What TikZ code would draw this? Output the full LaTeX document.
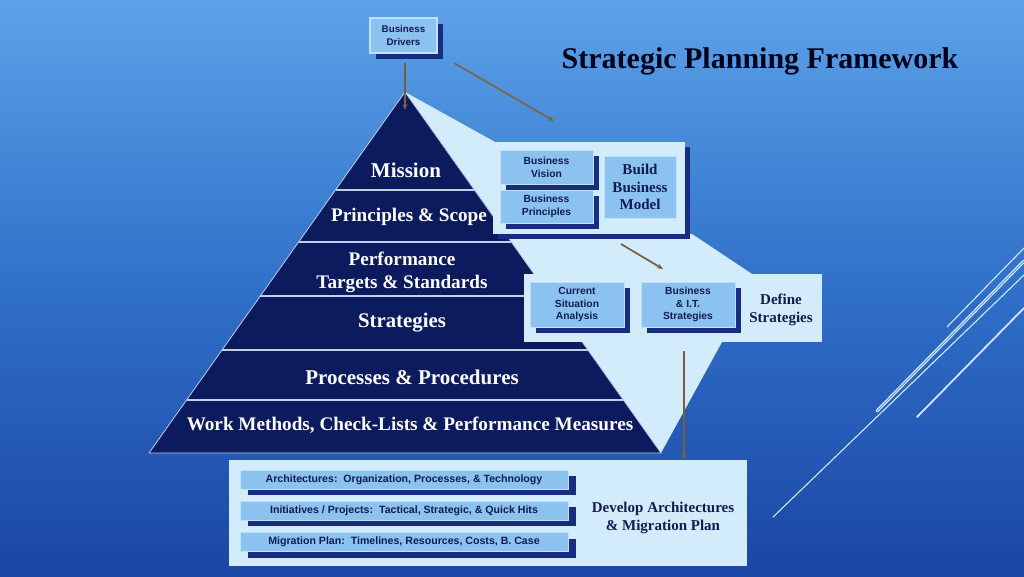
\documentclass[tikz,border=0pt]{standalone}
\usepackage{fontspec}
\setmainfont{Liberation Serif}
\newfontfamily\boxfont{Liberation Sans}
\usetikzlibrary{shadows,calc,arrows.meta}
\definecolor{navy}{RGB}{12,26,94}
\definecolor{shadownavy}{RGB}{24,44,128}
\definecolor{panel}{RGB}{210,236,251}
\definecolor{boxblue}{RGB}{140,194,240}
\definecolor{boxedge}{RGB}{190,226,252}
\definecolor{boxtext}{RGB}{16,28,80}
\definecolor{arrowbrown}{RGB}{122,94,60}
\definecolor{deco}{RGB}{208,232,252}
\definecolor{bgtop}{RGB}{92,162,232}
\definecolor{bgmid}{RGB}{48,112,200}
\definecolor{bgbot}{RGB}{26,70,164}
\definecolor{sepcol}{RGB}{190,206,236}
\begin{document}
\begin{tikzpicture}[x=1pt,y=-1pt,
  boxbase/.style={fill=boxblue, draw=boxedge, line width=0.8pt, inner sep=0pt, align=center,
    font=\boxfont\bfseries\fontsize{10.3}{12.8}\selectfont, text=boxtext},
  innerbox/.style={boxbase,
    drop shadow={shadow xshift=6pt,shadow yshift=-6pt,fill=shadownavy,opacity=1}},
  wideboxes/.style={boxbase, minimum width=328pt, minimum height=19pt,
    font=\boxfont\bfseries\fontsize{10.6}{12}\selectfont,
    drop shadow={shadow xshift=8pt,shadow yshift=-6pt,fill=shadownavy,opacity=1}},
  panelbox/.style={fill=panel, draw=none, inner sep=0pt},
  pyrtext/.style={text=white, align=center},
  navytext/.style={text=boxtext, align=center, font=\bfseries\fontsize{15}{17.5}\selectfont},
  brownarrow/.style={draw=arrowbrown, line width=1.7pt, -{Stealth[length=6pt,width=5pt]}},
  sepline/.style={draw=sepcol, line width=1.3pt},
  decoline/.style={draw=deco, line cap=round},
]
% background
\shade[top color=bgtop, bottom color=bgbot, middle color=bgmid] (0,0) rectangle (1024,576);
\useasboundingbox (0,0) rectangle (1024,576);

% pyramid corners
\coordinate (apex) at (405,92);
\coordinate (bl) at (149,453);
\coordinate (br) at (661,453);

% light projection panels (behind the pyramid)
\fill[panel] (apex) -- (495,142) -- (495,242) -- (512,242) -- cycle;
\fill[panel] (505,234) -- (692,234) -- (752,274) -- (524,274) -- cycle;
\fill[panel] (575,342) -- (722,342) -- (br) -- cycle;

% pyramid
\fill[navy] (apex) -- (bl) -- (br) -- cycle;
\foreach \t [count=\i] in {0.2715,0.4155,0.5651,0.7147,0.8532}{
  \draw[sepline] ($(apex)!\t!(bl)$) coordinate (sl\i) -- ($(apex)!\t!(br)$) coordinate (sr\i);
}
\draw[draw=sepcol, line width=0.8pt] (apex) -- (bl) -- (br) -- cycle;

\node[pyrtext, font=\bfseries\fontsize{21}{24}\selectfont] (mission) at (406,170) {Mission};
\node[pyrtext, font=\bfseries\fontsize{19.2}{23}\selectfont] (principles) at (409,217) {Principles \& Scope};
\node[pyrtext, font=\bfseries\fontsize{19.2}{23}\selectfont] (performance) at (402,272) {Performance\\Targets \& Standards};
\node[pyrtext, font=\bfseries\fontsize{20.8}{24}\selectfont] (strategies) at (402,323) {Strategies};
\node[pyrtext, font=\bfseries\fontsize{21}{24}\selectfont] (processes) at (412,377) {Processes \& Procedures};
\node[pyrtext, font=\bfseries\fontsize{19.2}{23}\selectfont] (work) at (410,425) {Work Methods, Check-Lists \& Performance Measures};

% business drivers
\node[innerbox, minimum width=67pt, minimum height=35pt, draw=boxedge, line width=1.5pt,
  font=\boxfont\bfseries\fontsize{9.8}{12.5}\selectfont] (drivers) at (403.5,35.5) {Business\\Drivers};
\coordinate (a1s) at (405,63);
\coordinate (a1e) at (405,110);
\draw[brownarrow] (a1s) -- (a1e);

% title
\node[text=black!90!blue, font=\bfseries\fontsize{30}{34}\selectfont] (title) at (760,61) {Strategic Planning Framework};

% build business model
\node[panelbox, minimum width=192pt, minimum height=92pt,
  drop shadow={shadow xshift=5pt,shadow yshift=-5pt,fill=shadownavy,opacity=1}] (build) at (589,188) {};
\node[innerbox, minimum width=93pt, minimum height=34pt] (vision) at (546.5,167) {Business\\Vision};
\node[innerbox, minimum width=93pt, minimum height=33pt] (bprinc) at (546.5,206.5) {Business\\Principles};
\node[boxbase, minimum width=72pt, minimum height=62pt, navytext] (buildtxt) at (640,187) {Build\\Business\\Model};

% define strategies
\node[panelbox, minimum width=298pt, minimum height=68pt] (define) at (673,308) {};
\node[innerbox, minimum width=94pt, minimum height=45pt] (current) at (577,304.5) {Current\\Situation\\Analysis};
\node[innerbox, minimum width=94pt, minimum height=45pt] (busit) at (688,304.5) {Business\\\& I.T.\\Strategies};
\node[navytext] (definetxt) at (781,310) {Define\\Strategies};

% develop architectures
\node[panelbox, minimum width=518pt, minimum height=106pt] (develop) at (488,513) {};
\node[wideboxes] (arch) at (404,479.5) {Architectures:\ \ Organization, Processes, \& Technology};
\node[wideboxes] (init) at (404,510.5) {Initiatives / Projects:\ \ Tactical, Strategic, \& Quick Hits};
\node[wideboxes] (migr) at (404,542) {Migration Plan:\ \ Timelines, Resources, Costs, B. Case};
\node[navytext] (developtxt) at (663,518) {Develop Architectures\\\& Migration Plan};

% arrows
\coordinate (a2s) at (454,63);
\coordinate (a2e) at (554,121);
\draw[brownarrow, draw=arrowbrown!80!gray] (a2s) -- (a2e);
\coordinate (a3s) at (621,244);
\coordinate (a3e) at (663,269);
\draw[brownarrow] (a3s) -- (a3e);
\coordinate (a4s) at (684,351);
\draw[brownarrow] (a4s) -- (a4s |- develop.north);

% decorative lines
\coordinate (d1a) at (947,327); \coordinate (d1b) at (1024,248);
\coordinate (d2a) at (877,411); \coordinate (d2b) at (1024,261);
\coordinate (d3a) at (773,517); \coordinate (d3b) at (1024,275);
\coordinate (d4a) at (917,417); \coordinate (d4b) at (1024,308);
\draw[decoline, line width=1.1pt] (d1a) -- (d1b);
\draw[decoline, line width=3.2pt] (d2a) -- (d2b);
\draw[draw=bgmid!70!deco, line width=0.8pt] (d2a) -- (d2b);
\draw[decoline, line width=1.1pt] (d3a) -- (d3b);
\draw[decoline, line width=1.8pt] (d4a) -- (d4b);
\end{tikzpicture}
\end{document}
